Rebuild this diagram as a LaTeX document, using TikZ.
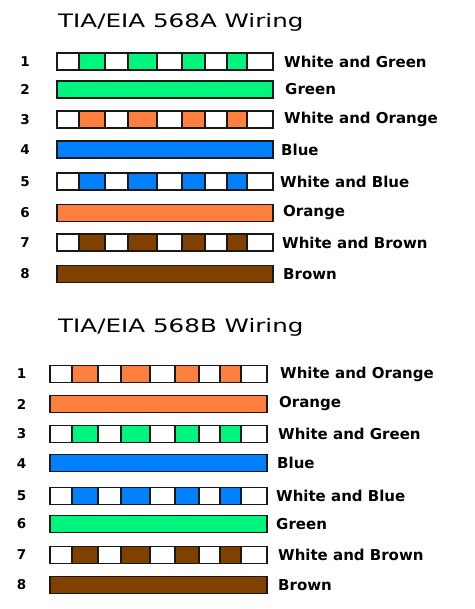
\documentclass[tikz,border=0pt]{standalone}
\usepackage{fontspec}
\setmainfont{DejaVu Sans}
\newfontfamily\titlefont[FakeStretch=1.33]{DejaVu Sans}
\definecolor{wiregreen}{HTML}{00F57F}
\definecolor{wireorange}{HTML}{FF7F3F}
\definecolor{wireblue}{HTML}{0080FF}
\definecolor{wirebrown}{HTML}{804000}
\tikzset{
  wire/.style = {draw=black!90, line width=1.3pt, outer sep=0pt, inner sep=0pt,
                 minimum height=17pt, anchor=west},
  pinnum/.style = {inner sep=0pt, font=\bfseries\fontsize{13.5}{14}\selectfont},
  wirename/.style = {anchor=west, inner sep=0pt, font=\bfseries\fontsize{15}{16}\selectfont},
  heading/.style = {anchor=base west, inner sep=0pt, font=\titlefont\fontsize{18.5}{20}\selectfont}
}

\begin{document}
\begin{tikzpicture}[x=1pt, y=-1pt]
  \useasboundingbox (0,0) rectangle (474,609);

  % 568A
  \node[heading] (titleA) at (58,27.7) {TIA/EIA 568A Wiring};
  \foreach \pin/\y/\bg/\c/\s/\lx/\txt in {
      1/61.5/white/wiregreen/1/284/White and Green,
      2/89.5/wiregreen/wiregreen/0/285/Green,
      3/119.5/white/wireorange/1/284/White and Orange,
      4/149.5/wireblue/wireblue/0/281/Blue,
      5/181.5/white/wireblue/1/280/White and Blue,
      6/213/wireorange/wireorange/0/283/Orange,
      7/242.5/white/wirebrown/1/282/White and Brown,
      8/274/wirebrown/wirebrown/0/283/Brown}{
    \node[pinnum] (numA\pin) at (25,\y) {\pin};
    \node[wire, fill=\bg, minimum width=216pt] (barA\pin) at (57,\y) {};
    \ifnum\s=1
      \foreach \a/\b in {22/48,71/100,125/148,170/190}
        \draw[wire, fill=\c] ([xshift=\a pt]barA\pin.north west)
          rectangle ([xshift=\b pt]barA\pin.south west);
    \fi
    \node[wirename] (nameA\pin) at (\lx,\y) {\txt};
  }

  % 568B
  \node[heading] (titleB) at (58,332.7) {TIA/EIA 568B Wiring};
  \foreach \pin/\y/\bg/\c/\s/\lx/\txt in {
      1/374/white/wireorange/1/280/White and Orange,
      2/404/wireorange/wireorange/0/279/Orange,
      3/433.7/white/wiregreen/1/278/White and Green,
      4/463.3/wireblue/wireblue/0/277/Blue,
      5/495.7/white/wireblue/1/276/White and Blue,
      6/524/wiregreen/wiregreen/0/276/Green,
      7/555/white/wirebrown/1/278/White and Brown,
      8/585/wirebrown/wirebrown/0/278/Brown}{
    \node[pinnum] (numB\pin) at (21.5,\y) {\pin};
    \node[wire, fill=\bg, minimum width=217pt] (barB\pin) at (50,\y) {};
    \ifnum\s=1
      \foreach \a/\b in {22/48,71/100,125/149,170/191}
        \draw[wire, fill=\c] ([xshift=\a pt]barB\pin.north west)
          rectangle ([xshift=\b pt]barB\pin.south west);
    \fi
    \node[wirename] (nameB\pin) at (\lx,\y) {\txt};
  }
\end{tikzpicture}
\end{document}
